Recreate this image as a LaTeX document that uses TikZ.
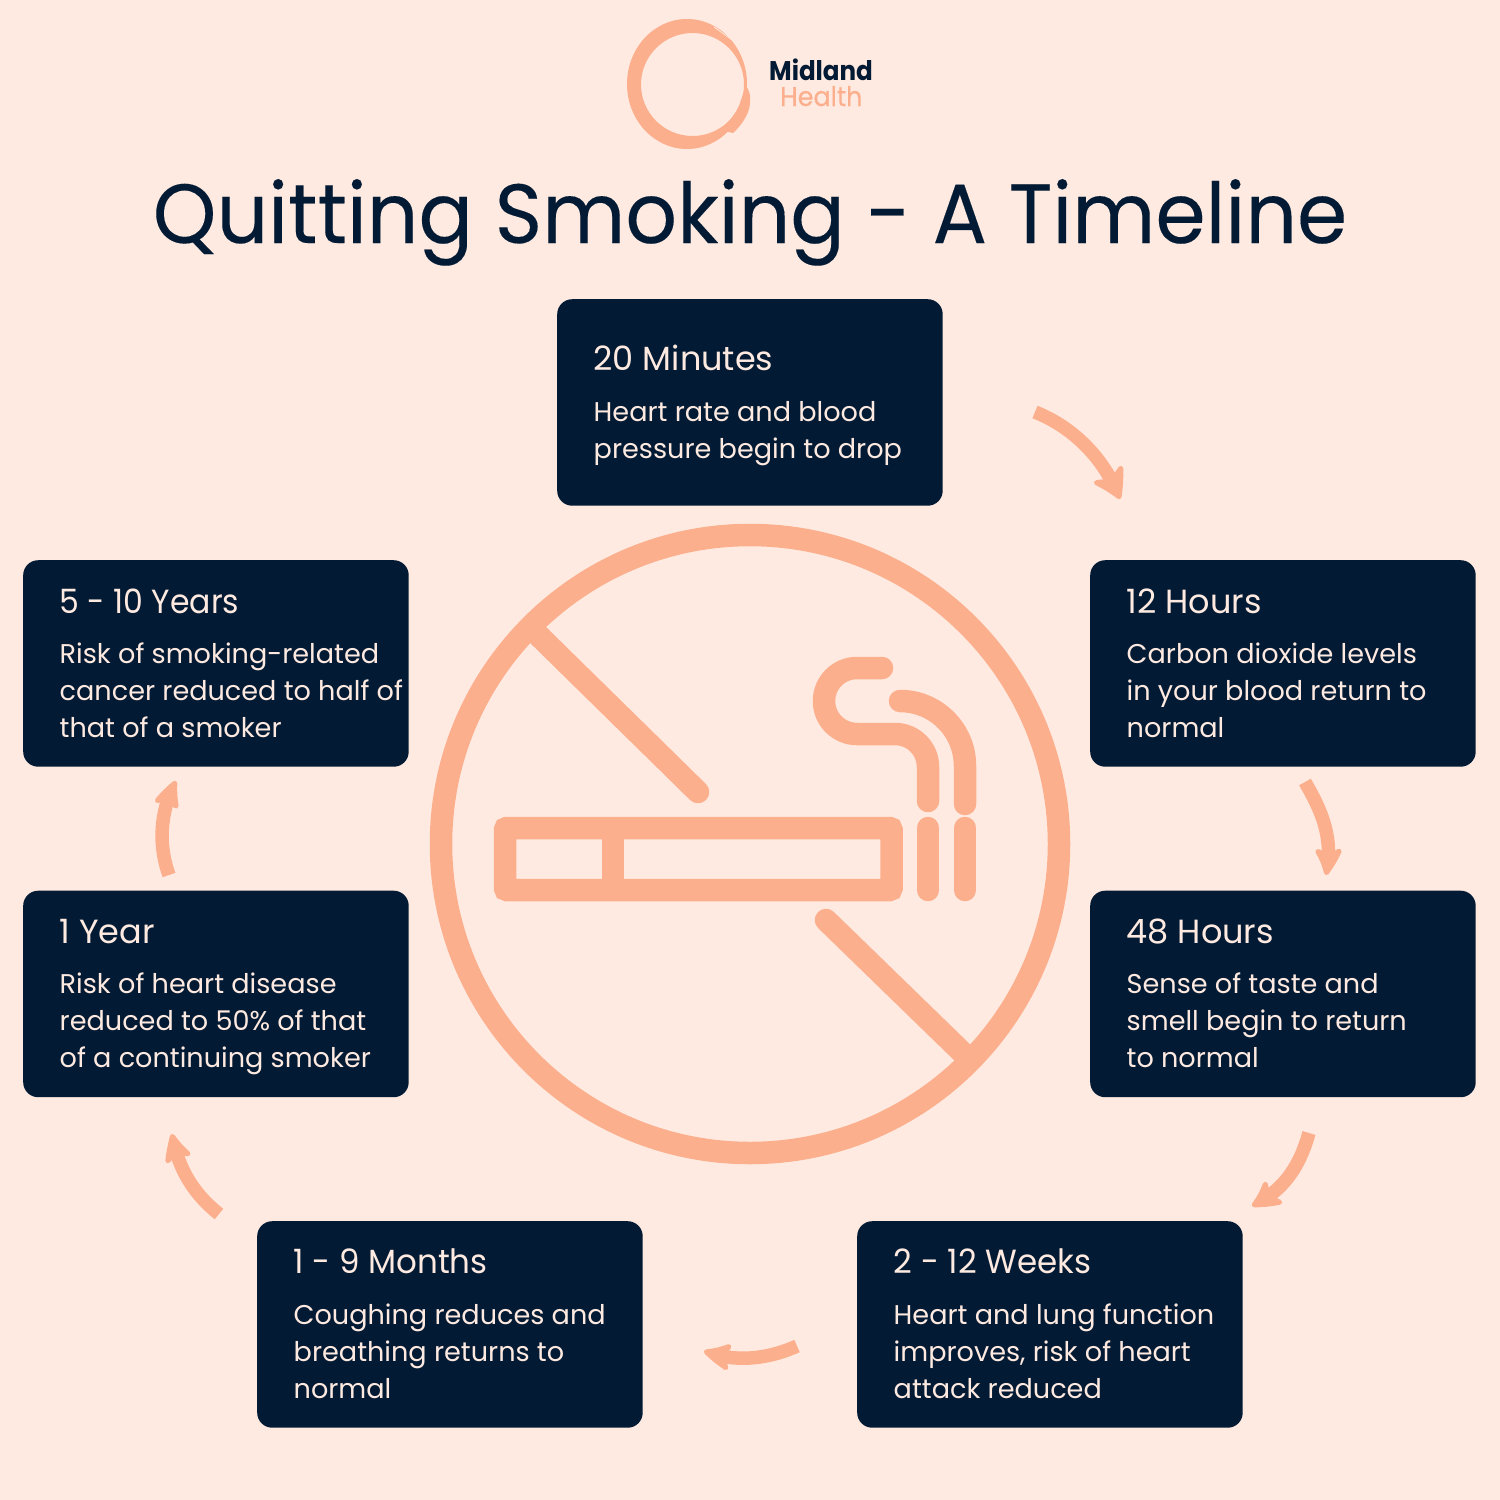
\documentclass[tikz,border=0pt]{standalone}
\usepackage{graphicx}
\usepackage{fontspec}
\setmainfont{Poppins}
\usetikzlibrary{arrows.meta,bending}
\definecolor{bgc}{HTML}{FEEAE1}
\definecolor{peach}{HTML}{FCAF8D}
\definecolor{navy}{HTML}{021A33}
\tikzset{
  x=1pt,y=-1pt,
  card/.style={fill=navy,rounded corners=15pt,inner sep=0pt,anchor=north west,minimum width=385.5pt,minimum height=206.5pt},
  headtext/.style={text=bgc,inner sep=0pt,anchor=base west,font=\fontsize{33.5}{37}\selectfont},
  bodytext/.style={text=bgc,inner sep=0pt,anchor=base west,align=left,font=\fontsize{27.1}{37}\selectfont},
  icon/.style={draw=peach,line width=22.5pt,line cap=round},
  flow/.style={draw=peach,line width=13.5pt,-{Stealth[length=34pt,width=#1,inset=9pt,round,bend,line width=5pt]}},
}
\begin{document}
\begin{tikzpicture}
\useasboundingbox (0,0) rectangle (1500,1500);
\fill[bgc] (0,0) rectangle (1500,1500);
% logo
\fill[peach,even odd rule] (687,84) ellipse [x radius=60,y radius=65] (692.5,84.5) circle [radius=51.5];
\draw[bgc,line width=0.8pt] (714,27) -- (735,42);
\fill[peach] (746,86) .. controls (749,90) and (751,96) .. (750,102) .. controls (750,112) and (743,124) .. (733,133) -- (720,130) .. controls (732,120) and (739,108) .. (741,100) -- cycle;
\node[inner sep=0pt,anchor=base west,text=navy] (brand) at (769,80) {\scalebox{0.91}[1]{\fontsize{27}{27}\selectfont\bfseries Midland}};
\node[inner sep=0pt,anchor=base west,text=peach] (brandb) at (780,106) {\scalebox{0.94}[1]{\fontsize{27}{27}\selectfont\addfontfeature{FakeBold=0.4}Health}};
% title
\node[inner sep=0pt,anchor=base,text=navy] (title) at (750,243) {\scalebox{0.962}[1]{\fontsize{84}{84}\selectfont\addfontfeature{FakeBold=0.15}Quitting Smoking - A Timeline}};
% central sign
\draw[peach,line width=22.5pt] (750,844) circle [radius=309];
\draw[icon] (533,630) -- (698,792);
\draw[icon] (826,920) -- (968,1058);
\draw[peach,line width=22.5pt,rounded corners=2pt] (505,828) rectangle (891.5,890);
\draw[peach,line width=22.5pt] (613,828) -- (613,890);
\draw[icon] (928,828) -- (928,890);
\draw[icon] (965,828) -- (965,890);
\draw[icon] (882,668) -- (857,668) arc[start angle=270,end angle=90,radius=33] -- (895,734) arc[start angle=-90,end angle=0,radius=33] -- (928,801);
\draw[icon] (900,701) arc[start angle=-90,end angle=0,radius=65] -- (965,804);
% cards
\node[card] (c1) at (557,299) {};
\node[headtext] (c1h) at (593.5,370) {20 Minutes};
\node[bodytext] (c1b) at (593.5,458) {Heart rate and blood\\pressure begin to drop};
\node[card] (c2) at (1090,560) {};
\node[headtext] (c2h) at (1126.5,613) {12 Hours};
\node[bodytext] (c2b) at (1126.5,737) {Carbon dioxide levels\\in your blood return to\\normal};
\node[card] (c3) at (1090,890.5) {};
\node[headtext] (c3h) at (1126.5,943) {48 Hours};
\node[bodytext] (c3b) at (1126.5,1067) {Sense of taste and\\smell begin to return\\to normal};
\node[card] (c4) at (857,1221) {};
\node[headtext] (c4h) at (893.5,1273) {\scalebox{0.97}[1]{2 - 12 Weeks}};
\node[bodytext] (c4b) at (893.5,1398) {Heart and lung function\\improves, risk of heart\\attack reduced};
\node[card] (c5) at (257,1221) {};
\node[headtext] (c5h) at (293.5,1273) {\scalebox{0.97}[1]{1 - 9 Months}};
\node[bodytext] (c5b) at (293.5,1398) {Coughing reduces and\\breathing returns to\\normal};
\node[card] (c6) at (23,890.5) {};
\node[headtext] (c6h) at (59.5,943) {1 Year};
\node[bodytext] (c6b) at (59.5,1067) {Risk of heart disease\\reduced to 50\% of that\\of a continuing smoker};
\node[card] (c7) at (23,560) {};
\node[headtext] (c7h) at (59.5,613) {\scalebox{0.94}[1]{5 - 10 Years}};
\node[bodytext] (c7b) at (59.5,737) {Risk of smoking-related\\cancer reduced to half of\\that of a smoker};
% connectors
\coordinate (a1s) at (1035,412); \coordinate (a1e) at (1120,499);
\coordinate (a2s) at (1305,782); \coordinate (a2e) at (1326,875);
\coordinate (a3s) at (1309,1133); \coordinate (a3e) at (1252,1206);
\coordinate (a4s) at (797,1346); \coordinate (a4e) at (704,1351);
\coordinate (a5s) at (219,1214); \coordinate (a5e) at (172,1134);
\coordinate (a6s) at (169,875); \coordinate (a6e) at (176,781);
\draw[flow=40pt] (a1s) .. controls (1075,428) and (1105,460) .. (a1e);
\draw[flow=32pt] (a2s) .. controls (1318,805) and (1335,835) .. (a2e);
\draw[flow=34pt] (a3s) .. controls (1300,1165) and (1285,1190) .. (a3e);
\draw[flow=32pt] (a4s) .. controls (775,1356) and (740,1365) .. (a4e);
\draw[flow=32pt] (a5s) .. controls (195,1195) and (178,1170) .. (a5e);
\draw[flow=30pt] (a6s) .. controls (158,845) and (160,810) .. (a6e);
\end{tikzpicture}
\end{document}
